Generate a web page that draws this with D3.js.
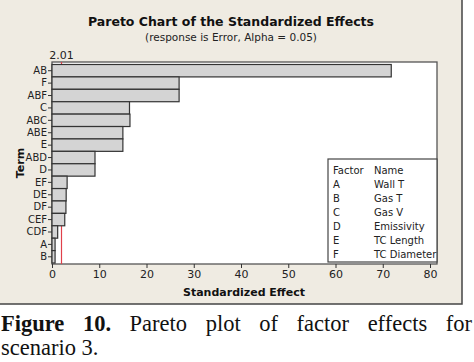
<!DOCTYPE html>
<html><head><meta charset="utf-8">
<script src="https://cdn.jsdelivr.net/npm/d3@7"></script>
<style>html,body{margin:0;padding:0;background:#fff;}svg{display:block;}</style>
</head><body>
<svg id="c" width="474" height="362"></svg>
<script>
const terms = ["AB","F","ABF","C","ABC","ABE","E","ABD","D","EF","DE","DF","CEF","CDF","A","B"];
const effects = [71.8,26.9,26.9,16.4,16.5,15.0,15.0,9.1,9.1,3.2,3.0,2.95,2.7,1.2,0.65,0.65];
const xTicks = [0,10,20,30,40,50,60,70,80];
const critical = 2.01;
const legendFactors = ["A","B","C","D","E","F"];
const legendNames = ["Wall T","Gas T","Gas V","Emissivity","TC Length","TC Diameter"];
const title = "Pareto Chart of the Standardized Effects";
const subtitle = "(response is Error, Alpha = 0.05)";
const captionLine1 = ["Figure","10.","Pareto","plot","of","factor","effects","for"];
const captionLine2 = "scenario 3.";

const svg = d3.select("#c");
const F = "Tahoma, 'DejaVu Sans', Verdana, sans-serif";

// panel
svg.append("rect").attr("x",-2).attr("y",-2).attr("width",464).attr("height",306)
  .attr("fill","#efebe2").attr("stroke","#444").attr("stroke-width",1.5);

const pl=52, pr=437, pt=62, pb=264;
const x = d3.scaleLinear().domain([0,80]).range([52,430]);
const y = d3.scaleBand().domain(terms).range([64.5,263]).padding(0);

svg.append("rect").attr("x",pl).attr("y",pt).attr("width",pr-pl).attr("height",pb-pt)
  .attr("fill","#fff").attr("stroke","#555").attr("stroke-width",1.3);

// critical line (behind bars)
svg.append("line").attr("x1",x(critical)).attr("x2",x(critical)).attr("y1",pt).attr("y2",pb)
  .attr("stroke","#e0404a").attr("stroke-width",1.2);

svg.selectAll(".bar").data(terms).join("rect")
  .attr("x",x(0)).attr("y",d=>y(d))
  .attr("width",(d,i)=>x(effects[i])-x(0)).attr("height",y.bandwidth())
  .attr("fill","#d4d4d4").attr("stroke","#333").attr("stroke-width",1.2);

svg.append("text").attr("x",x(critical)).attr("y",59).attr("text-anchor","middle")
  .attr("font-family",F).attr("font-size",11).attr("fill","#222").text(critical.toFixed(2));

// axes
const xa = svg.append("g").attr("transform",`translate(0,${pb})`)
  .call(d3.axisBottom(x).tickValues(xTicks).tickSize(4).tickPadding(2));
xa.select(".domain").remove();
xa.selectAll("line").attr("stroke","#333");
xa.selectAll("text").attr("font-family",F).attr("font-size",11).attr("fill","#222");

const ya = svg.append("g").attr("transform",`translate(${pl},0)`)
  .call(d3.axisLeft(y).tickSize(4).tickPadding(1));
ya.select(".domain").remove();
ya.selectAll("line").attr("stroke","#333");
ya.selectAll("text").attr("font-family",F).attr("font-size",10).attr("fill","#222");

svg.append("text").attr("x",244).attr("y",296).attr("text-anchor","middle")
  .attr("font-family",F).attr("font-size",11).attr("font-weight","bold").attr("fill","#111")
  .text("Standardized Effect");
svg.append("text").attr("transform","translate(24,163) rotate(-90)").attr("text-anchor","middle")
  .attr("font-family",F).attr("font-size",11).attr("font-weight","bold").attr("fill","#111")
  .text("Term");

svg.append("text").attr("x",231).attr("y",26).attr("text-anchor","middle")
  .attr("font-family",F).attr("font-size",12.5).attr("font-weight","bold").attr("fill","#111")
  .text(title);
svg.append("text").attr("x",231).attr("y",41).attr("text-anchor","middle")
  .attr("font-family",F).attr("font-size",10.5).attr("fill","#222")
  .text(subtitle);

// legend
svg.append("rect").attr("x",328).attr("y",159).attr("width",109).attr("height",103)
  .attr("fill","#fff").attr("stroke","#444").attr("stroke-width",1.2);
const lg = svg.append("g").attr("font-family",F).attr("font-size",10).attr("fill","#222");
lg.append("text").attr("x",333).attr("y",174).text("Factor");
lg.append("text").attr("x",374).attr("y",174).text("Name");
legendFactors.forEach((f,i)=>{
  lg.append("text").attr("x",333).attr("y",188+i*14).text(f);
  lg.append("text").attr("x",374).attr("y",188+i*14).text(legendNames[i]);
});

// caption (justified)
const cap = svg.append("g").attr("font-family","'Liberation Serif','Times New Roman',serif")
  .attr("font-size",22.5).attr("fill","#111");
const ws = captionLine1.map((w,i)=>{
  const t = cap.append("text").attr("y",331).attr("font-weight",i<2?"bold":"normal").text(w);
  return {t, w:t.node().getComputedTextLength()};
});
const total = d3.sum(ws,d=>d.w);
const gap = (472-1-total)/(ws.length-1);
let cx=1;
ws.forEach(d=>{d.t.attr("x",cx); cx+=d.w+gap;});
cap.append("text").attr("x",1).attr("y",355).text(captionLine2);
</script>
</body></html>
